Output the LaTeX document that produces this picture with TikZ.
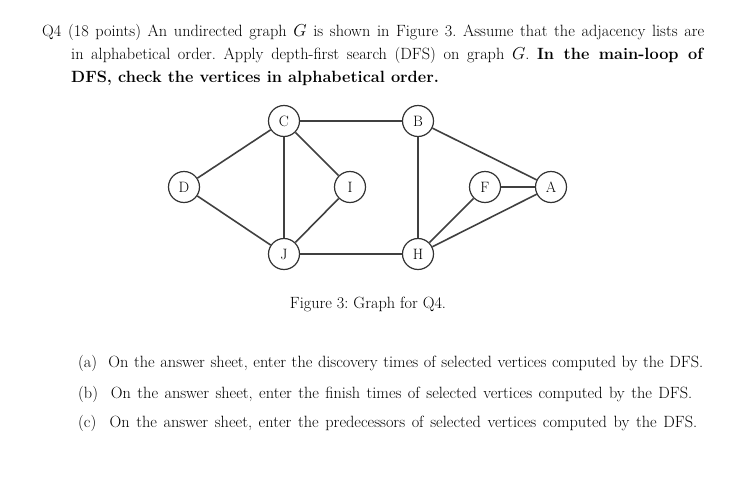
\documentclass[tikz,border=0pt]{standalone}
\tikzset{v/.style={circle,draw=black!80,line width=1.2pt,minimum size=31pt,inner sep=0pt,fill=white,font=\fontsize{15}{15}\selectfont},
e/.style={draw=black!75,line width=1.6pt},
txt/.style={anchor=base west,inner sep=0pt,font=\fontsize{16.3}{19}\selectfont\frenchspacing}}
\begin{document}
\begin{tikzpicture}[x=1pt,y=-1pt]
\useasboundingbox (0,0) rectangle (747,482);
\node[txt] (l1) at (42,36) {\makebox[662pt][s]{Q4 (18 points) An undirected graph $G$ is shown in Figure 3. Assume that the adjacency lists are}};
\node[txt] (l2) at (71,59) {\makebox[633pt][s]{in alphabetical order. Apply depth-first search (DFS) on graph $G$. \textbf{In the main-loop of}}};
\node[txt] (l3) at (71,82) {\textbf{DFS, check the vertices in alphabetical order.}};
\node[v] (C) at (284,121) {C};
\node[v] (B) at (418,121) {B};
\node[v] (D) at (184,187) {D};
\node[v] (I) at (350,187) {I};
\node[v] (F) at (485,187) {F};
\node[v] (A) at (551,187) {A};
\node[v] (J) at (284,254) {J};
\node[v] (H) at (418,254) {H};
\path[e] (D)--(C) (D)--(J) (C)--(J) (C)--(I) (I)--(J) (C)--(B) (B)--(H) (J)--(H) (B)--(A) (F)--(A) (F)--(H) (H)--(A);
\node[txt,anchor=base] (cap) at (368,308) {Figure 3: Graph for Q4.};
\node[txt] (a) at (78,367) {\makebox[625pt][s]{(a)\ \ On the answer sheet, enter the discovery times of selected vertices computed by the DFS.}};
\node[txt] (b) at (78,398) {\makebox[614pt][s]{(b)\ \ On the answer sheet, enter the finish times of selected vertices computed by the DFS.}};
\node[txt] (c) at (78,427) {\makebox[619pt][s]{(c)\ \ On the answer sheet, enter the predecessors of selected vertices computed by the DFS.}};
\end{tikzpicture}
\end{document}
